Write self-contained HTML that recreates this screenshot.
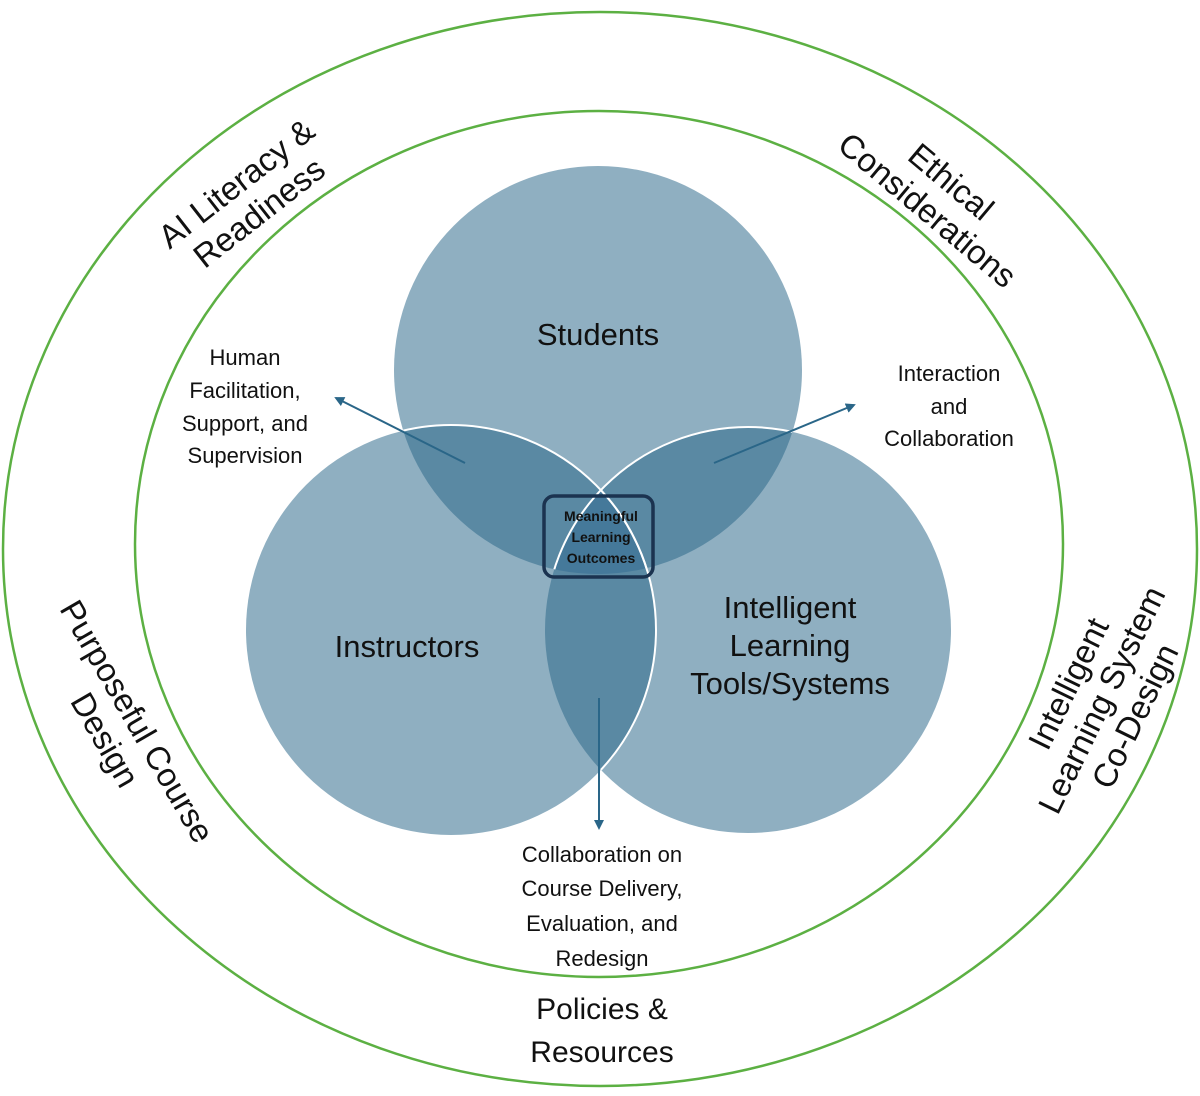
<!DOCTYPE html>
<html><head><meta charset="utf-8"><style>
html,body{margin:0;padding:0;background:#fff;}
svg{display:block;font-family:"Liberation Sans",Arial,sans-serif;}
</style></head><body>
<svg width="1200" height="1096" viewBox="0 0 1200 1096" xmlns="http://www.w3.org/2000/svg">
<defs>
<clipPath id="cS"><circle cx="598" cy="370" r="204"/></clipPath>
<clipPath id="cI"><circle cx="451" cy="630" r="205"/></clipPath>
<clipPath id="cT"><circle cx="748" cy="630" r="203"/></clipPath>
<marker id="ah" markerWidth="10" markerHeight="10" refX="8" refY="5" orient="auto" markerUnits="userSpaceOnUse"><path d="M0,0 L10,5 L0,10 z" fill="#2a6688"/></marker>
</defs>
<ellipse cx="600" cy="549" rx="597" ry="537" fill="none" stroke="#5cb043" stroke-width="2.5"/>
<ellipse cx="599" cy="544" rx="464" ry="433" fill="none" stroke="#5cb043" stroke-width="2.5"/>

<circle cx="598" cy="370" r="204" fill="#8fafc1"/>
<circle cx="451" cy="630" r="205" fill="#8fafc1"/>
<circle cx="748" cy="630" r="203" fill="#8fafc1"/>
<g clip-path="url(#cS)"><circle cx="451" cy="630" r="205" fill="#5a89a3"/><circle cx="748" cy="630" r="203" fill="#5a89a3"/></g>
<g clip-path="url(#cI)"><circle cx="748" cy="630" r="203" fill="#5a89a3"/></g>
<g clip-path="url(#cS)"><g clip-path="url(#cI)"><circle cx="748" cy="630" r="203" fill="#45799a"/></g></g>
<g clip-path="url(#cS)"><circle cx="451" cy="630" r="205" fill="none" stroke="#fff" stroke-width="2"/><circle cx="748" cy="630" r="203" fill="none" stroke="#fff" stroke-width="2"/></g>
<g clip-path="url(#cT)"><circle cx="451" cy="630" r="205" fill="none" stroke="#fff" stroke-width="2"/></g>

<rect x="544" y="496" width="109" height="81" rx="10" fill="none" stroke="#1b3350" stroke-width="3.5"/>
<g font-size="14" font-weight="bold" fill="#111" text-anchor="middle">
<text x="601" y="521">Meaningful</text><text x="601" y="542">Learning</text><text x="601" y="563">Outcomes</text>
</g>

<g stroke="#2a6688" stroke-width="2" marker-end="url(#ah)">
<line x1="465" y1="463" x2="336" y2="398"/>
<line x1="714" y1="463" x2="854" y2="405"/>
<line x1="599" y1="698" x2="599" y2="828"/>
</g>

<g fill="#111" text-anchor="middle">
<text x="598" y="345" font-size="31">Students</text>
<text x="407" y="657" font-size="31">Instructors</text>
<text x="790" y="618" font-size="31">Intelligent</text>
<text x="790" y="656" font-size="31">Learning</text>
<text x="790" y="694" font-size="31">Tools/Systems</text>
<g font-size="22">
<text x="245" y="365">Human</text><text x="245" y="398">Facilitation,</text><text x="245" y="431">Support, and</text><text x="245" y="463">Supervision</text>
<text x="949" y="381">Interaction</text><text x="949" y="414">and</text><text x="949" y="446">Collaboration</text>
<text x="602" y="862">Collaboration on</text><text x="602" y="896">Course Delivery,</text><text x="602" y="931">Evaluation, and</text><text x="602" y="966">Redesign</text>
</g>
<g font-size="30">
<text x="602" y="1019">Policies &amp;</text><text x="602" y="1062">Resources</text>
</g>
<g font-size="33">
<g transform="translate(247,197) rotate(-38)"><text x="0" y="-6">AI Literacy &amp;</text><text x="0" y="31">Readiness</text></g>
<g transform="translate(940,195) rotate(40)"><text x="0" y="-6">Ethical</text><text x="0" y="31">Considerations</text></g>
<g transform="translate(122,730) rotate(60)"><text x="0" y="-6">Purposeful Course</text><text x="0" y="31">Design</text></g>
<g transform="translate(1102,700) rotate(-64)"><text x="0" y="-26">Intelligent</text><text x="0" y="11">Learning System</text><text x="0" y="48">Co-Design</text></g>
</g>
</g>
</svg>
</body></html>
